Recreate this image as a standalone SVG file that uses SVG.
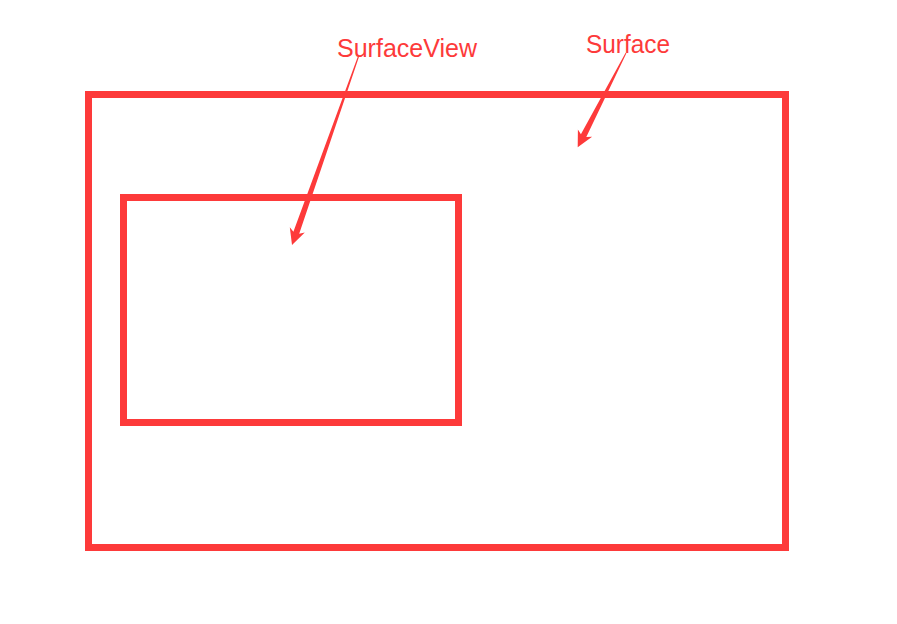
<svg xmlns="http://www.w3.org/2000/svg" width="897" height="624" viewBox="0 0 897 624">
<style>
.box{fill:none;stroke:#fd3a3a;stroke-width:7}
.lbl{font-family:"Liberation Sans","Noto Sans",Arial,sans-serif;font-size:25px;fill:#fd3a3a}
.arr{fill:#fd3a3a;stroke:none}
</style>
<rect width="897" height="624" fill="#ffffff"/>
<g id="surface">
<rect class="box" x="88.5" y="94.5" width="697" height="453"/>
<text class="lbl" x="586" y="53" textLength="84" lengthAdjust="spacingAndGlyphs">Surface</text>
</g>
<g id="surfaceview">
<rect class="box" x="123.5" y="197.5" width="335" height="225"/>
<text class="lbl" x="337" y="57" textLength="140" lengthAdjust="spacingAndGlyphs">SurfaceView</text>
</g>
<g id="connectors">
<polygon class="arr" points="358.5,54.8 293.4,231.7 289.8,227.2 292,245 304.8,232.6 299.2,233.7 359.5,55.2"/>
<polygon class="arr" points="625.6,52.8 580.9,134.3 577.9,129.5 577.7,147.3 592.1,136.7 586.3,137.1 626.4,53.2"/>
</g>
</svg>
